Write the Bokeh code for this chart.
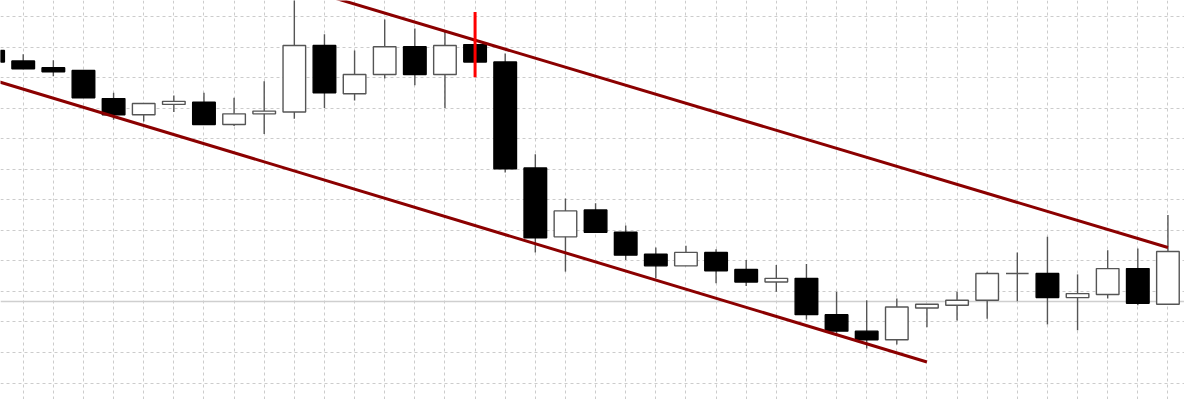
from bokeh.plotting import figure
from bokeh.models import Range1d, SingleIntervalTicker, Span, ColumnDataSource
from bokeh.embed import file_html
from bokeh.resources import INLINE

# ---- data (price units; grid every 10) ----
bars = list(range(40))
opens = [209.0, 205.5, 203.3, 202.4, 193.2, 187.9, 191.3, 192.0, 184.7, 188.2,
         188.8, 210.6, 194.8, 201.1, 210.2, 201.1, 210.9, 205.2, 170.5, 147.9,
         156.7, 149.4, 142.2, 138.4, 142.8, 137.2, 133.1, 134.3, 122.4, 117.0,
         114.2, 124.6, 125.5, 127.1, 135.9, 135.9, 128.0, 129.0, 137.5, 125.8]
highs = [209.9, 207.7, 205.8, 202.4, 195.1, 191.6, 194.2, 195.1, 193.5, 198.9,
         226.9, 214.3, 209.0, 219.1, 216.2, 215.3, 210.9, 208.0, 175.0, 160.5,
         158.9, 151.6, 144.4, 145.0, 143.8, 140.3, 138.7, 139.0, 129.9, 127.1,
         127.7, 125.8, 129.9, 136.5, 142.8, 147.9, 135.6, 143.5, 144.1, 155.1]
lows = [204.6, 202.8, 200.5, 193.5, 186.3, 185.7, 188.8, 184.7, 184.2, 181.6,
        186.6, 190.1, 192.6, 199.8, 197.6, 190.1, 205.2, 169.0, 142.8, 136.5,
        149.4, 140.3, 134.3, 138.4, 132.7, 131.8, 129.9, 120.8, 116.1, 111.3,
        112.6, 118.3, 120.5, 121.1, 126.8, 119.2, 117.3, 127.7, 125.5, 125.8]
closes = [205.2, 203.0, 202.0, 193.5, 187.9, 191.6, 192.3, 184.7, 188.2, 189.1,
          210.6, 195.1, 201.1, 210.2, 201.1, 210.6, 205.2, 170.2, 147.6, 156.4,
          149.4, 141.9, 138.4, 142.8, 136.8, 133.1, 134.3, 122.4, 117.0, 114.2,
          124.9, 125.8, 127.1, 135.9, 135.9, 128.0, 129.3, 137.5, 126.1, 143.1]

upper_x = [10, 39]
upper_y = [230.1, 144.4]
lower_x = [0, 31]
lower_y = [199.3, 106.9]
marker_x = [16, 16]
marker_y = [221.6, 200.2]
price_line = 126.75

# ---- styling helpers ----
tops = [max(o, c) for o, c in zip(opens, closes)]
bottoms = [min(o, c) for o, c in zip(opens, closes)]
fills = ["#000000" if c < o else "#ffffff" for o, c in zip(opens, closes)]
edges = ["#000000" if c < o else "#555555" for o, c in zip(opens, closes)]

src = ColumnDataSource(dict(x=bars, o=opens, h=highs, l=lows, c=closes,
                            top=tops, bottom=bottoms, fill=fills, edge=edges))

p = figure(width=1184, height=399, output_backend="svg", toolbar_location=None,
           x_range=Range1d(0.246, 39.55), y_range=Range1d(94.6, 225.35),
           x_axis_location=None, y_axis_location=None, min_border=0)
p.outline_line_color = None
p.background_fill_color = "#ffffff"
p.border_fill_color = "#ffffff"

p.xgrid.ticker = SingleIntervalTicker(interval=1)
p.ygrid.ticker = SingleIntervalTicker(interval=10)
for g in (p.xgrid, p.ygrid):
    g.grid_line_color = "#cccccc"
    g.grid_line_dash = "3 3"
    g.grid_line_width = 1

p.add_layout(Span(location=price_line, dimension="width", line_color="#cfcfcf",
                  line_width=1.5, level="underlay"))

p.segment(x0="x", y0="h", x1="x", y1="l", source=src, line_color="#555555", line_width=1.4)
p.vbar(x="x", width=0.75, top="top", bottom="bottom", source=src,
       fill_color="fill", line_color="edge", line_width=1.4)

p.line(upper_x, upper_y, line_color="#8b0000", line_width=3)
p.line(lower_x, lower_y, line_color="#8b0000", line_width=3)
p.line(marker_x, marker_y, line_color="#ff0000", line_width=3)

open("out.html", "w").write(file_html(p, INLINE))
